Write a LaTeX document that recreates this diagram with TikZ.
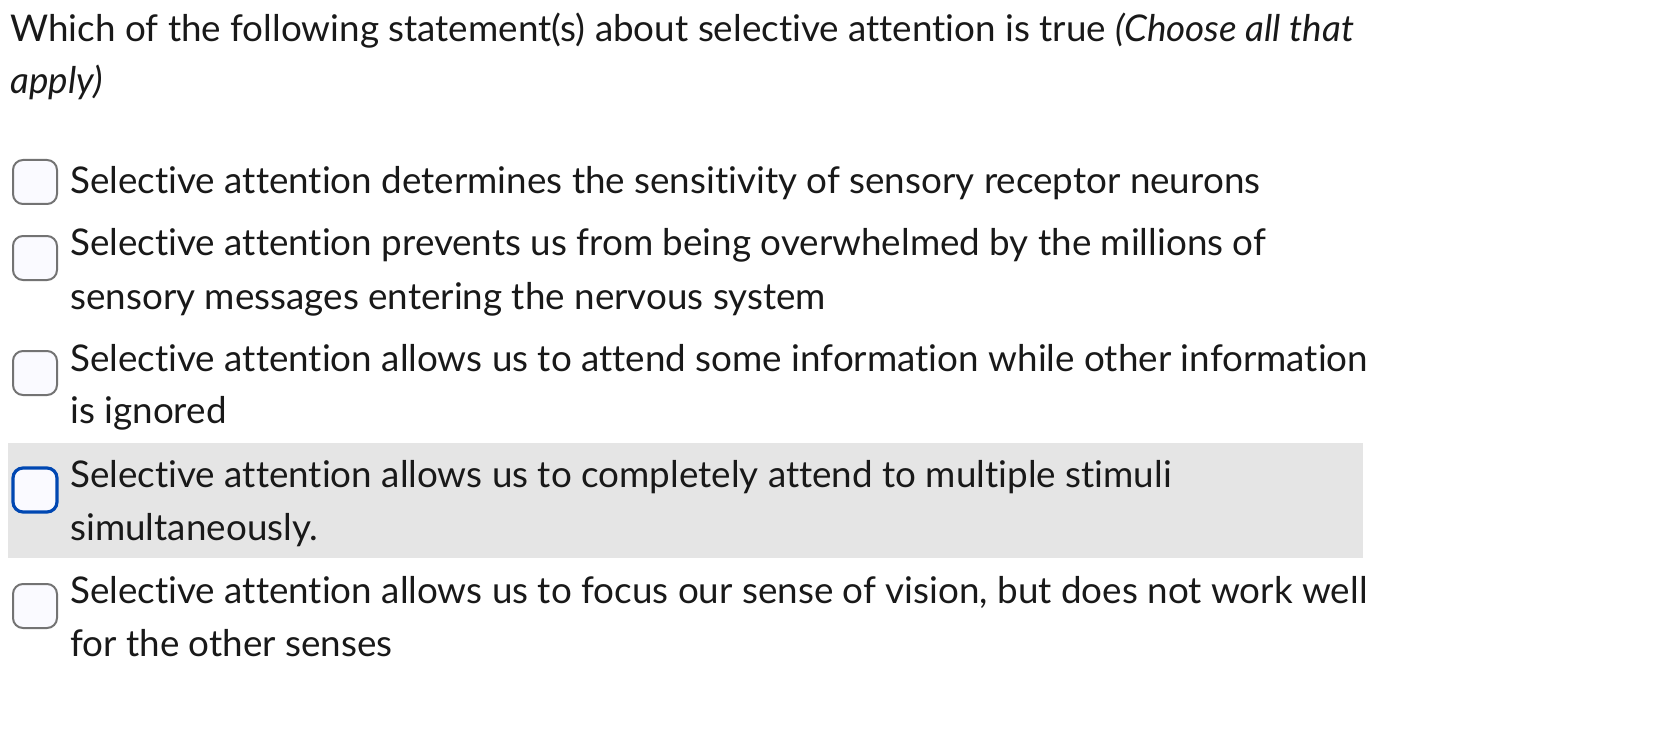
\documentclass[tikz,border=0pt]{standalone}
\usepackage{fontspec}
\setmainfont{Lato}[Ligatures={NoCommon,NoRequired,NoContextual}]
\begin{document}
\begin{tikzpicture}[x=0.5pt,y=-0.5pt,
  txt/.style={anchor=base west,inner sep=0pt,font=\fontsize{18.4}{22}\selectfont,text=black!90},
  cbox/.style={draw=black!55,line width=1pt,fill=blue!2,rounded corners=5pt,minimum size=22pt,inner sep=0pt},
  cboxsel/.style={cbox,draw=blue!60!cyan!70!black,line width=1.6pt}]
\useasboundingbox (0,0) rectangle (1672,738);
\fill[black!10] (8,443) rectangle (1363,558);
\node[txt] (t1) at (10,42) {Which of the following statement(s) about selective attention is true \textit{(Choose all that}};
\node[txt] (t2) at (10,94) {\textit{apply)}};
\node[cbox] (b1) at (35,182) {};
\node[txt] (a1) at (70,193) {Selective attention determines the sensitivity of sensory receptor neurons};
\node[cbox] (b2) at (35,258) {};
\node[txt] (a2) at (70,256) {Selective attention prevents us from being overwhelmed by the millions of};
\node[txt] (a2b) at (70,309) {sensory messages entering the nervous system};
\node[cbox] (b3) at (35,373) {};
\node[txt] (a3) at (70,371) {Selective attention allows us to attend some information while other information};
\node[txt] (a3b) at (70,423) {is ignored};
\node[cboxsel] (b4) at (35,490) {};
\node[txt] (a4) at (70,487) {Selective attention allows us to completely attend to multiple stimuli};
\node[txt] (a4b) at (70,540) {simultaneously.};
\node[cbox] (b5) at (35,606) {};
\node[txt] (a5) at (70,603) {Selective attention allows us to focus our sense of vision, but does not work well};
\node[txt] (a5b) at (70,656) {for the other senses};
\end{tikzpicture}
\end{document}
